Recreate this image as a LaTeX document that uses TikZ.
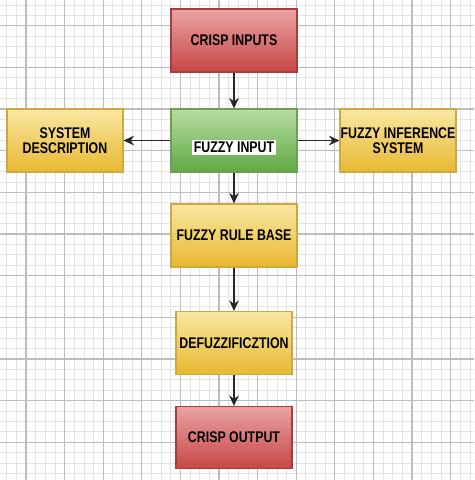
\documentclass[tikz,border=0pt]{standalone}
\usepackage{fontspec}
\newfontfamily\boxfont{Liberation Sans}[FakeStretch=0.8]
\usetikzlibrary{arrows.meta}

\definecolor{redtop}{HTML}{E9A3A3}
\definecolor{redbot}{HTML}{C84646}
\definecolor{redline}{HTML}{A83C3C}
\definecolor{greentop}{HTML}{B8DCA4}
\definecolor{greenbot}{HTML}{5EAA42}
\definecolor{greenline}{HTML}{6E9E58}
\definecolor{yellowtop}{HTML}{F9E7A2}
\definecolor{yellowbot}{HTML}{E8B832}
\definecolor{yellowline}{HTML}{CFA842}
\definecolor{gridminor}{HTML}{E4E4E4}
\definecolor{gridmajor}{HTML}{BDBDBD}

\begin{document}
\begin{tikzpicture}[
    x=0.02cm, y=-0.02cm,
    stage/.style={
        rectangle, line width=0.6pt, inner sep=0pt,
        minimum width=2.52cm, minimum height=1.26cm,
        align=center, text=black,
        font=\boxfont\bfseries\fontsize{8.8}{8.6}\selectfont
    },
    crisp/.style={stage, draw=redline, top color=redtop, bottom color=redbot},
    fuzzy/.style={stage, draw=greenline, top color=greentop, bottom color=greenbot},
    block/.style={stage, draw=yellowline, top color=yellowtop, bottom color=yellowbot},
    narrow/.style={minimum width=2.32cm},
    arr/.style={-{Stealth[length=6pt, width=5.5pt]}, line width=0.8pt, black!85}
]
\useasboundingbox (0,0) rectangle (474,480);
\fill[white] (0,0) rectangle (474,480);

% --- Grid ---
\foreach \i in {-2,...,49} {
    \draw[gridminor, line width=0.45pt] ({26+9.65*\i},0) -- ({26+9.65*\i},480);
}
\foreach \i in {-2,...,46} {
    \draw[gridminor, line width=0.45pt] (0,{25.8+10.41*\i}) -- (474,{25.8+10.41*\i});
}
\foreach \i in {0,...,11} {
    \draw[gridmajor, line width=0.7pt] ({26+38.6*\i},0) -- ({26+38.6*\i},480);
}
\foreach \i in {0,...,10} {
    \draw[gridmajor, line width=0.7pt] (0,{25.8+41.65*\i}) -- (474,{25.8+41.65*\i});
}

% --- Main column ---
\node[crisp] (inputs) at (234, 40.5) {CRISP INPUTS};
\node[fuzzy, label={[fill=white, inner sep=1pt, yshift=-0.14cm,
    font=\boxfont\bfseries\fontsize{8.8}{8.6}\selectfont]center:FUZZY INPUT}]
    (fuzzin) at (234, 140.5) {};
\node[block] (rules) at (234, 235.5) {FUZZY RULE BASE};
\node[block, narrow] (defuzz) at (234, 343) {DEFUZZIFICZTION};
\node[crisp, narrow, minimum height=1.24cm] (output) at (234, 437.5) {CRISP OUTPUT};

% --- Side blocks ---
\node[block, narrow] (sysdesc) at (65, 140.5) {SYSTEM\\DESCRIPTION};
\node[block, narrow] (fis) at (398, 140.5) {FUZZY INFERENCE\\SYSTEM};

% --- Arrows ---
\draw[arr] (inputs.south) -- (fuzzin.north);
\draw[arr] (fuzzin.west)  -- (sysdesc.east);
\draw[arr] (fuzzin.east)  -- (fis.west);
\draw[arr] (fuzzin.south) -- (rules.north);
\draw[arr] (rules.south)  -- (defuzz.north);
\draw[arr] (defuzz.south) -- (output.north);

\end{tikzpicture}
\end{document}
